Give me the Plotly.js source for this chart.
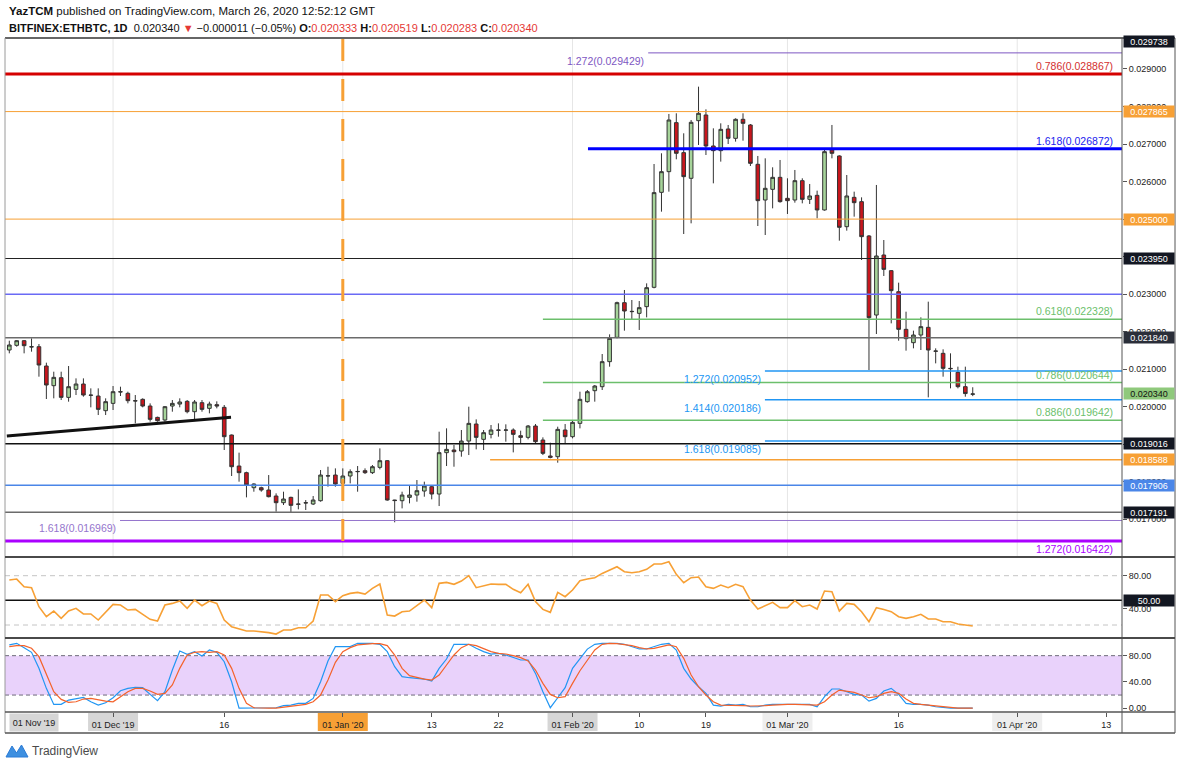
<!DOCTYPE html>
<html>
<head>
<meta charset="utf-8">
<script src="https://cdn.plot.ly/plotly-3.0.1.min.js"></script>
<style>html,body{margin:0;padding:0;background:#fff;}#chart{width:1180px;height:768px;}</style>
</head>
<body>
<div id="chart"></div>
<script>
// ---------- DATA ----------
const firstDate = "2019-11-17";
const opens = [
0.021512,0.021636,0.021760,0.021600,0.021600,0.021085,0.020561,0.020774,0.020250,0.020463,
0.020605,0.020312,0.020286,0.019895,0.020090,0.020401,0.020357,0.020161,0.020197,0.020019,
0.019717,0.019646,0.020019,0.020072,0.020144,0.019868,0.020108,0.019957,0.020055,0.019984,
0.019246,0.018420,0.018243,0.017843,0.017843,0.017781,0.017621,0.017443,0.017585,0.017408,
0.017443,0.017408,0.017496,0.018154,0.018180,0.017958,0.018154,0.018269,0.018296,0.018243,
0.018385,0.018562,0.017514,0.017496,0.017585,0.017647,0.017754,0.017869,0.017674,0.018776,
0.018847,0.018820,0.019086,0.019539,0.019131,0.019264,0.019380,0.019374,0.019380,0.019229,
0.019184,0.019486,0.019113,0.018687,0.018669,0.019380,0.019202,0.019557,0.020135,0.020428,
0.020534,0.021201,0.021849,0.022773,0.022533,0.022489,0.022667,0.023182,0.025713,0.026264,
0.027570,0.026771,0.026087,0.027623,0.027774,0.026948,0.026824,0.027401,0.027152,0.027659,
0.027508,0.026460,0.025509,0.025793,0.026113,0.025553,0.025509,0.026024,0.025527,0.025633,
0.025243,0.026842,0.026682,0.024798,0.025580,0.025465,0.024550,0.022444,0.024043,0.023626,
0.023066,0.022062,0.021707,0.021911,0.022116,0.021485,0.021423,0.021023,0.020917,0.020535,
0.020333];
const highs = [
0.021760,0.021778,0.021778,0.021822,0.021671,0.021174,0.020934,0.020934,0.021085,0.020756,
0.020756,0.020490,0.020490,0.020224,0.020552,0.020534,0.020401,0.020312,0.020224,0.020090,
0.019735,0.020019,0.020179,0.020224,0.020179,0.020179,0.020179,0.020135,0.020144,0.020046,
0.019260,0.018776,0.018269,0.017958,0.017870,0.018180,0.017692,0.017736,0.017603,0.017798,
0.017514,0.017621,0.018314,0.018402,0.018358,0.018358,0.018331,0.018420,0.018358,0.018447,
0.018891,0.018580,0.017520,0.017736,0.017887,0.018047,0.018003,0.017887,0.019335,0.019424,
0.018980,0.019380,0.020001,0.019664,0.019380,0.019513,0.019557,0.019531,0.019424,0.019362,
0.019513,0.019539,0.019184,0.019042,0.019468,0.019539,0.019646,0.020401,0.020446,0.020579,
0.021405,0.021929,0.022800,0.023111,0.022844,0.022817,0.023288,0.026468,0.026753,0.027801,
0.027819,0.027286,0.027641,0.028529,0.027925,0.027419,0.027552,0.027508,0.027685,0.027819,
0.027534,0.026682,0.026619,0.026380,0.026575,0.026087,0.026309,0.026087,0.025936,0.025758,
0.026842,0.027508,0.026700,0.026175,0.025731,0.025580,0.024576,0.025909,0.024443,0.023640,
0.023306,0.022533,0.022027,0.022382,0.022800,0.021556,0.021530,0.021423,0.021068,0.021068,
0.020519];
const lows = [
0.021423,0.021600,0.021423,0.021467,0.020801,0.020206,0.020224,0.020179,0.020135,0.020312,
0.020268,0.019984,0.019779,0.019779,0.019913,0.020286,0.020090,0.019557,0.019984,0.019602,
0.019602,0.019602,0.019868,0.019984,0.019824,0.019646,0.019868,0.019824,0.019957,0.018847,
0.018154,0.018003,0.017585,0.017736,0.017736,0.017585,0.017203,0.017381,0.017177,0.017266,
0.017248,0.017381,0.017470,0.017870,0.017870,0.017870,0.017958,0.017736,0.018207,0.018207,
0.018331,0.017496,0.016920,0.017292,0.017425,0.017470,0.017603,0.017532,0.017354,0.018420,
0.018402,0.018669,0.018713,0.018864,0.018847,0.019157,0.019202,0.019069,0.018784,0.019024,
0.019131,0.019024,0.018713,0.018625,0.018509,0.019006,0.019157,0.019424,0.020108,0.020135,
0.020446,0.021067,0.021822,0.022027,0.022311,0.022045,0.022382,0.023155,0.025198,0.025731,
0.026593,0.024603,0.024887,0.026975,0.026708,0.025953,0.026531,0.027001,0.027064,0.027090,
0.026415,0.024816,0.024576,0.025287,0.025438,0.025136,0.025438,0.025420,0.025402,0.025021,
0.025225,0.026619,0.024425,0.024692,0.025065,0.023910,0.020979,0.021938,0.023484,0.022222,
0.021760,0.021494,0.021556,0.021512,0.020250,0.021156,0.020801,0.020490,0.020490,0.020268,
0.020283];
const closes = [
0.021645,0.021760,0.021627,0.021595,0.021112,0.020579,0.020783,0.020250,0.020534,0.020605,
0.020312,0.020305,0.019930,0.020135,0.020401,0.020395,0.020161,0.020155,0.020019,0.019664,
0.019628,0.020001,0.020090,0.020126,0.019868,0.020126,0.019930,0.020072,0.020019,0.019202,
0.018402,0.018243,0.017914,0.017941,0.017781,0.017603,0.017443,0.017541,0.017372,0.017402,
0.017437,0.017514,0.018180,0.018160,0.017941,0.018154,0.018269,0.018275,0.018243,0.018402,
0.018562,0.017514,0.017500,0.017647,0.017647,0.017763,0.017887,0.017674,0.018776,0.018864,
0.018802,0.019086,0.019557,0.019184,0.019309,0.019380,0.019374,0.019380,0.019264,0.019184,
0.019486,0.019069,0.018758,0.018651,0.019397,0.019202,0.019584,0.020197,0.020401,0.020552,
0.021201,0.021822,0.022773,0.022551,0.022540,0.022640,0.023173,0.025705,0.026264,0.027641,
0.026753,0.026131,0.027579,0.027819,0.026948,0.026824,0.027392,0.027152,0.027659,0.027552,
0.026486,0.025491,0.025820,0.026113,0.025465,0.025491,0.026024,0.025527,0.025616,0.025243,
0.026797,0.026753,0.024781,0.025616,0.025438,0.024532,0.022373,0.024017,0.023661,0.023093,
0.022062,0.021814,0.021911,0.022134,0.021512,0.021480,0.021023,0.021015,0.020535,0.020351,
0.020340];
const rsi = [
74.7,75.9,66.6,65.4,42.3,30.1,37.0,28.1,37.0,40.3,
33.4,33.4,26.1,35.4,45.1,44.3,38.2,39.0,33.0,26.9,
24.8,44.3,46.3,49.2,40.3,50.4,43.5,49.2,46.3,26.1,
18.0,15.1,12.7,12.7,11.9,10.7,9.0,13.9,13.9,16.7,
16.7,24.8,56.5,56.5,48.4,55.7,58.5,59.7,57.7,64.6,
69.9,32.1,30.9,36.2,37.0,43.5,50.4,41.1,70.7,71.9,
69.5,73.5,80.0,65.4,67.4,69.9,69.5,69.5,63.4,59.3,
69.5,48.4,39.0,35.4,59.7,54.5,62.6,73.9,75.9,77.6,
82.8,86.9,90.9,84.9,83.6,84.9,87.7,94.2,94.2,97.0,
81.6,71.5,77.6,78.4,66.6,64.6,68.6,65.4,69.5,66.6,
50.4,39.4,43.5,47.6,41.1,41.1,49.6,42.3,44.3,39.4,
61.3,60.5,37.0,46.3,45.1,36.2,24.0,41.1,39.0,36.2,
30.1,28.1,30.1,33.0,27.3,27.3,24.0,24.0,21.2,20.0,
18.8];
const stochK = [
96.3,98.8,92.2,85.1,60.7,30.2,5.8,5.8,12.4,14.9,
16.4,9.8,4.7,8.3,15.9,26.6,30.2,31.7,31.2,21.0,
11.4,25.1,58.1,87.1,82.0,86.1,79.5,88.6,85.1,70.8,
40.3,0,0,0,0,0,0.7,3.8,4.7,7.4,
7.4,14.9,40.3,71.9,93.7,93.7,93.7,98.8,98.8,98.8,
97.3,86.1,63.2,48.0,46.4,45.4,44.4,41.4,60.7,74.9,
97.3,97.3,97.3,91.2,86.1,82.5,83.6,81.0,77.0,73.4,
73.4,53.0,25.1,0.7,15.9,31.2,60.7,75.0,90.0,97.3,
98.8,98.8,98.8,97.3,93.7,90.2,90.2,93.7,97.3,98.8,
88.6,60.7,44.4,32.7,22.5,4.7,3.3,5.8,4.7,5.8,
2.2,2.2,4.7,5.8,5.8,5.8,5.8,5.8,5.8,2.2,
17.5,29.2,29.2,25.1,21.0,20.0,10.8,14.9,26.1,30.2,
21.0,7.4,5.8,5.8,4.7,2.2,0.7,0,0,0,
0];
const stochD = [
93.7,95.3,95.3,91.2,78.5,50.5,25.1,13.4,8.8,9.8,
13.9,14.9,12.4,10.8,9.8,17.5,25.1,30.2,30.2,26.1,
21.0,22.6,35.3,60.7,81.0,85.1,86.1,85.1,86.1,81.0,
60.7,30.2,7.4,0.7,0,0,0.2,1.7,3.3,4.7,
5.8,9.8,20.0,42.9,69.8,86.1,92.2,96.3,97.8,98.3,
98.3,95.3,81.0,60.7,49.5,46.4,44.4,42.9,50.5,65.8,
81.0,92.2,97.3,95.3,91.2,86.1,83.6,82.5,80.0,77.0,
71.9,58.1,37.8,21.0,15.9,17.5,37.8,57.0,73.0,88.6,
97.3,98.8,98.3,97.3,95.3,92.2,90.2,91.2,93.7,96.3,
93.7,75.9,50.5,32.7,20.0,9.8,4.7,4.7,4.7,3.8,
3.3,3.3,3.8,4.7,5.8,5.8,5.8,5.8,5.3,4.7,
9.8,20.0,27.6,26.1,24.1,20.0,15.9,17.5,22.6,25.1,
22.6,13.9,7.4,5.8,4.7,3.3,1.7,0.7,0.2,0,
0];
// drawn objects
const trendDates = ["2019-11-16 16:00", "2019-12-16 22:00"];
const trendPrices = [0.019220, 0.019717];
const levelPrices = [0.029429,0.028867,0.027865,0.026872,0.025000,0.023950,0.023000,0.022328,0.021840,0.020952,
                     0.020644,0.020186,0.019642,0.019085,0.019016,0.018588,0.017906,0.017191,0.016969,0.016422];
const levelRatios = ["1.272","0.786",null,"1.618",null,null,null,"0.618",null,"1.272",
                     "0.786","1.414","0.886","1.618",null,null,null,null,"1.618","1.272"];
const levelStarts = ["2020-02-11 05:00",null,null,"2020-02-03 02:00",null,null,null,"2020-01-28",null,"2020-02-26 23:00",
                     "2020-01-28","2020-02-26 23:00","2020-01-28","2020-02-26 23:00",null,"2020-01-20 21:00",null,null,"2019-12-01 22:30",null];
const markedPrices = [0.029738,0.027865,0.025000,0.023950,0.021840,0.020340,0.019016,0.018588,0.017906,0.017191];
const monthStarts = ["2019-12-01","2020-01-01","2020-02-01","2020-03-01","2020-04-01"];
const eventDate = "2020-01-01";
const xTickDates = ["2019-12-01","2019-12-16","2020-01-01","2020-01-13","2020-01-22","2020-02-01","2020-02-10","2020-02-19","2020-03-01","2020-03-16","2020-04-01","2020-04-13"];
const xTickLabels = ["01 Dec '19","16","01 Jan '20","13","22","01 Feb '20","10","19","01 Mar '20","16","01 Apr '20","13"];
const priceTicks = [0.017,0.018,0.019,0.020,0.021,0.022,0.023,0.024,0.025,0.026,0.027,0.028,0.029];

// ---------- STYLES ----------
const levelStyle = [
 {c:"#7e57c2",w:1,pos:"leftBelow"},{c:"#d50000",w:3,pos:"rightAbove",tc:"#d32f2f"},{c:"#f7a035",w:1},
 {c:"#0000ff",w:3,pos:"rightAbove",tc:"#1a1aee"},{c:"#f7a035",w:1},{c:"#222222",w:1},{c:"#6a6af5",w:1.5},
 {c:"#6cbf6c",w:1.5,pos:"rightAbove"},{c:"#6b6b6b",w:1.5},{c:"#2196f3",w:1.5,pos:"leftBelow"},
 {c:"#6cbf6c",w:1.5,pos:"rightAbove"},{c:"#2196f3",w:1.5,pos:"leftBelow"},{c:"#6cbf6c",w:1.5,pos:"rightAbove"},
 {c:"#2196f3",w:1.5,pos:"leftBelow"},{c:"#111111",w:1.5},{c:"#f7a035",w:1.5},{c:"#4a86e8",w:1.5},
 {c:"#6b6b6b",w:1.5},{c:"#9575cd",w:1,pos:"leftBelow"},{c:"#aa00ff",w:3,pos:"rightBelow"}
];
const markedStyle = [
 {bg:"#131722",fc:"#fff"},{bg:"#f7a035",fc:"#fff"},{bg:"#f7a035",fc:"#fff"},{bg:"#131722",fc:"#fff"},
 {bg:"#2a2e39",fc:"#fff"},{bg:"#8fc97c",fc:"#111"},{bg:"#131722",fc:"#fff"},{bg:"#f7a035",fc:"#fff"},
 {bg:"#4a86e8",fc:"#fff"},{bg:"#131722",fc:"#fff"}
];
const xBoxStyle = {"2019-12-01":"#d6d6d6","2020-01-01":"#f7a035","2020-02-01":"#d6d6d6","2020-03-01":"#eeeeee","2020-04-01":"#eeeeee"};

// ---------- BUILD ----------
const dates = [];
(function(){ const t0 = Date.parse(firstDate + "T00:00:00Z");
  for (let i = 0; i < opens.length; i++) dates.push(new Date(t0 + i*86400000).toISOString().slice(0,10)); })();

const FONT = "Arial, 'Liberation Sans', sans-serif";
const P = px => (px - 5) / 1117;   // paper x from page pixel (frame only)
const Q = py => (712 - py) / 673;  // paper y from page pixel (frame only)
const RIGHT = P(1175);
const MAIN_D = [Q(557), 1], RSI_D = [Q(638), Q(557)], STO_D = [0, Q(638)];

const traces = [
 {type:"candlestick", x:dates, open:opens, high:highs, low:lows, close:closes, xaxis:"x", yaxis:"y",
  increasing:{line:{color:"#333333",width:1}, fillcolor:"#a6d49a"},
  decreasing:{line:{color:"#333333",width:1}, fillcolor:"#c8161d"},
  whiskerwidth:0, hoverinfo:"skip", showlegend:false},
 {type:"scatter", mode:"lines", x:trendDates, y:trendPrices, xaxis:"x", yaxis:"y",
  line:{color:"#111111", width:3}, hoverinfo:"skip", showlegend:false},
 {type:"scatter", mode:"lines", x:dates, y:rsi, xaxis:"x", yaxis:"y2",
  line:{color:"#f7a035", width:1.6}, hoverinfo:"skip", showlegend:false},
 {type:"scatter", mode:"lines", x:dates, y:stochK, xaxis:"x", yaxis:"y3",
  line:{color:"#2196f3", width:1.2}, hoverinfo:"skip", showlegend:false},
 {type:"scatter", mode:"lines", x:dates, y:stochD, xaxis:"x", yaxis:"y3",
  line:{color:"#f4622a", width:1.2}, hoverinfo:"skip", showlegend:false}
];

const shapes = [];
const annotations = [];

// month grid (main pane)
monthStarts.forEach(m => shapes.push({type:"line", xref:"x", yref:"y domain", x0:m, x1:m, y0:0, y1:1,
  line:{color:"#e6e6e6", width:1}, layer:"below"}));
// stochastic band
shapes.push({type:"rect", xref:"paper", yref:"y3", x0:0, x1:1, y0:20, y1:80, fillcolor:"#e9d2fb", line:{width:0}, layer:"below"});
[80,20].forEach(v => shapes.push({type:"line", xref:"paper", yref:"y3", x0:0, x1:1, y0:v, y1:v, line:{color:"#6d6a7a", width:1, dash:"4px,3px"}, layer:"below"}));
// RSI guides
[80,20].forEach(v => shapes.push({type:"line", xref:"paper", yref:"y2", x0:0, x1:1, y0:v, y1:v, line:{color:"#c4c4c4", width:1, dash:"5px,4px"}, layer:"below"}));
shapes.push({type:"line", xref:"paper", yref:"y2", x0:0, x1:1, y0:50, y1:50, line:{color:"#111", width:1.5}, layer:"below"});

// horizontal levels
levelPrices.forEach((p, i) => {
  const st = levelStyle[i];
  if (levelStarts[i]) shapes.push({type:"line", xref:"x", yref:"y", x0:levelStarts[i], x1:"2020-06-01", y0:p, y1:p, line:{color:st.c, width:st.w}});
  else shapes.push({type:"line", xref:"paper", yref:"y", x0:0, x1:1, y0:p, y1:p, line:{color:st.c, width:st.w}});
  if (levelRatios[i]) {
    const txt = levelRatios[i] + "(" + p.toFixed(6) + ")";
    const fc = st.tc || st.c;
    const a = {text:txt, showarrow:false, yref:"y", y:p, font:{family:FONT, size:10.5, color:fc}, borderpad:0};
    if (st.pos === "leftBelow") Object.assign(a, {xref:"x", x:levelStarts[i], xanchor:"right", xshift:-3, yanchor:"top", yshift:-1});
    else if (st.pos === "rightAbove") Object.assign(a, {xref:"paper", x:P(1114), xanchor:"right", yanchor:"bottom", yshift:1});
    else Object.assign(a, {xref:"paper", x:P(1114), xanchor:"right", yanchor:"top", yshift:-1});
    annotations.push(a);
  }
});
// event dashed vertical line
shapes.push({type:"line", xref:"x", yref:"y domain", x0:eventDate, x1:eventDate, y0:1, y1:0,
  line:{color:"#f7a035", width:3, dash:"22px,18px"}});

// frame
const frame = "#555555";
shapes.push({type:"line", xref:"paper", yref:"paper", x0:0, x1:RIGHT, y0:Q(38), y1:Q(38), line:{color:"#333", width:1.5}});
[0, 1, RIGHT].forEach(x => shapes.push({type:"line", xref:"paper", yref:"paper", x0:x, x1:x, y0:Q(733), y1:Q(38), line:{color:x===0?"#9a9a9a":frame, width:1}}));
shapes.push({type:"line", xref:"paper", yref:"paper", x0:0, x1:RIGHT, y0:0, y1:0, line:{color:frame, width:1.5}});
shapes.push({type:"line", xref:"paper", yref:"paper", x0:0, x1:RIGHT, y0:Q(733), y1:Q(733), line:{color:frame, width:1.5}});
[MAIN_D[0], RSI_D[0]].forEach(y => shapes.push({type:"line", xref:"paper", yref:"paper", x0:0, x1:RIGHT, y0:y, y1:y, line:{color:"#4a4a4a", width:2}}));

// x label boxes
Object.keys(xBoxStyle).forEach(d => shapes.push({type:"rect", xref:"x", xsizemode:"pixel", xanchor:d, x0:-25, x1:25,
  yref:"paper", y0:Q(731), y1:Q(713), fillcolor:xBoxStyle[d], line:{width:0}, layer:"below"}));
annotations.push({xref:"paper", yref:"paper", x:P(9), y:Q(722), xanchor:"left", yanchor:"middle", text:"01 Nov '19",
  showarrow:false, bgcolor:"#d6d6d6", width:48, height:17, borderpad:0, font:{family:FONT, size:9, color:"#222"}});

// price-axis marked labels
markedPrices.forEach((p, i) => annotations.push({xref:"paper", yref:"y", x:1.0006, y:p, xanchor:"left", yanchor:"middle",
  text:p.toFixed(6), showarrow:false, bgcolor:markedStyle[i].bg, width:50, height:11, borderpad:0, align:"center",
  font:{family:FONT, size:9, color:markedStyle[i].fc}}));
annotations.push({xref:"paper", yref:"y2", x:1.0006, y:50, xanchor:"left", yanchor:"middle", text:"50.00", showarrow:false,
  bgcolor:"#131722", width:50, height:11, borderpad:0, align:"center", font:{family:FONT, size:9, color:"#fff"}});

// header
const red = "#e53935";
annotations.push({xref:"paper", yref:"paper", x:P(7), y:Q(11), xanchor:"left", yanchor:"middle", showarrow:false,
  text:"<b>YazTCM</b> published on TradingView.com, March 26, 2020 12:52:12 GMT", font:{family:FONT, size:11.5, color:"#111"}});
annotations.push({xref:"paper", yref:"paper", x:P(7), y:Q(28), xanchor:"left", yanchor:"middle", showarrow:false,
  text:"<b>BITFINEX:ETHBTC, 1D</b>  0.020340 <span style='color:"+red+"'>▼</span> −0.000011 (−0.05%) <b>O:</b><span style='color:"+red+"'>0.020333</span> <b>H:</b><span style='color:"+red+"'>0.020519</span> <b>L:</b><span style='color:"+red+"'>0.020283</span> <b>C:</b><span style='color:"+red+"'>0.020340</span>",
  font:{family:FONT, size:11, color:"#111"}});
// footer logo
shapes.push({type:"path", xref:"paper", yref:"paper",
  path:"M "+P(6)+" "+Q(757)+" L "+P(12)+" "+Q(746)+" L "+P(16.5)+" "+Q(753)+" L "+P(21.5)+" "+Q(745)+" L "+P(28)+" "+Q(757)+" Z",
  fillcolor:"#3d8fe0", line:{color:"#2b7bd6", width:1}});
annotations.push({xref:"paper", yref:"paper", x:P(30), y:Q(751), xanchor:"left", yanchor:"middle", showarrow:false,
  text:"TradingView", font:{family:FONT, size:12, color:"#4a4a4a"}});

const axCommon = {showgrid:false, zeroline:false, showline:false, fixedrange:true, ticks:"outside", ticklen:4,
  tickcolor:"#555", tickfont:{family:FONT, size:9, color:"#222"}};

const layout = {
  width:1180, height:768,
  margin:{l:5, r:58, t:39, b:56, pad:0},
  paper_bgcolor:"#ffffff", plot_bgcolor:"rgba(0,0,0,0)",
  showlegend:false, dragmode:false,
  font:{family:FONT, size:9, color:"#222"},
  xaxis:Object.assign({}, axCommon, {type:"date", anchor:"y3", range:["2019-11-16 10:04","2020-04-15 03:22"],
    rangeslider:{visible:false}, tickmode:"array", tickvals:xTickDates, ticktext:xTickLabels, ticklen:4}),
  yaxis:Object.assign({}, axCommon, {domain:MAIN_D, anchor:"x", side:"right", range:[0.015996,0.029799],
    tickmode:"array", tickvals:priceTicks, tickformat:".6f"}),
  yaxis2:Object.assign({}, axCommon, {domain:RSI_D, anchor:"x", side:"right", range:[4.2,102.75],
    tickmode:"array", tickvals:[40,80], ticktext:["40.00","80.00"]}),
  yaxis3:Object.assign({}, axCommon, {domain:STO_D, anchor:"x", side:"right", range:[-5.8,106.9],
    tickmode:"array", tickvals:[0,40,80], ticktext:["0.00","40.00","80.00"]}),
  shapes:shapes, annotations:annotations
};

Plotly.newPlot("chart", traces, layout, {staticPlot:true, displayModeBar:false});
</script>
</body>
</html>
